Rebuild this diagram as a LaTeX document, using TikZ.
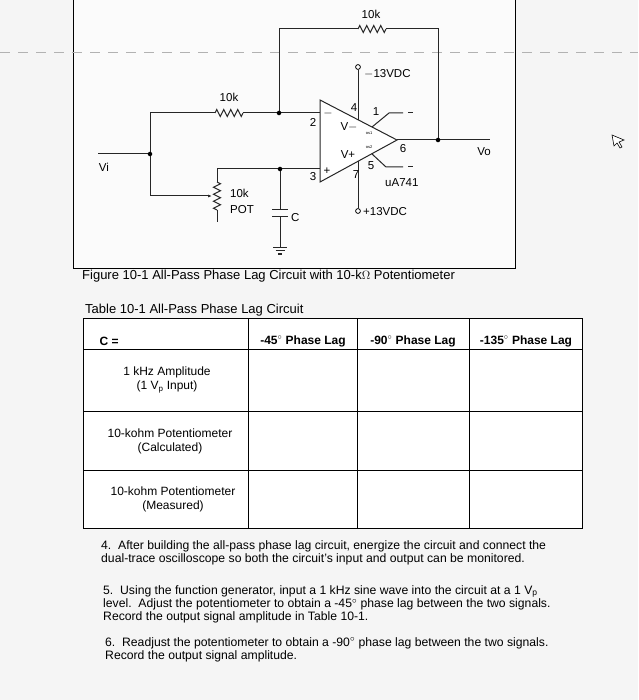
\documentclass[tikz,border=0pt]{standalone}
\usepackage{fontspec}
\setmainfont{Liberation Sans}
\usetikzlibrary{decorations.pathmorphing,arrows.meta}
\begin{document}
\begin{tikzpicture}[x=1pt,y=-1pt,
  wire/.style={line width=1pt,black!85},
  res/.style={wire,decorate,decoration={zigzag,segment length=7pt,amplitude=3.5pt}},
  dot/.style={circle,fill=black,inner sep=1.6pt},
  term/.style={circle,draw,line width=0.8pt,inner sep=1.7pt,fill=white},
  lbl/.style={font=\fontsize{11.5}{12}\selectfont,inner sep=1pt},
  tiny/.style={font=\fontsize{4}{4}\selectfont,inner sep=0pt},
  cell/.style={font=\fontsize{12}{14}\selectfont,align=center},
  head/.style={font=\bfseries\fontsize{12}{13}\selectfont},
  para/.style={font=\fontsize{12.2}{13.4}\selectfont,align=left,anchor=north west,inner sep=0pt}]
\fill[black!4] (0,0) rectangle (638,700);
\useasboundingbox (0,0) rectangle (638,700);
\fill[white!97!gray] (74,0) rectangle (515,268);
\draw[line width=0.8pt] (73,0) -- (73,268) -- (515,268) -- (515,0);
\draw[black!30,dashed,dash pattern=on 10pt off 8pt] (0,52) -- (638,52);
% coordinates
\coordinate (vi) at (98,154);
\coordinate (j1) at (150,154);
\coordinate (jt) at (150,113);
\coordinate (jb) at (150,196);
\coordinate (r1a) at (215,113);
\coordinate (r1b) at (243,113);
\coordinate (jinv) at (279,113);
\coordinate (inv) at (320,113);
\coordinate (ftop) at (279,29);
\coordinate (rfa) at (358,29);
\coordinate (rfb) at (386,29);
\coordinate (ftr) at (438,29);
\coordinate (out) at (397,140);
\coordinate (jout) at (438,140);
\coordinate (vo) at (490,140);
\coordinate (pt) at (217,169);
\coordinate (pa) at (217,182);
\coordinate (pb) at (217,210);
\coordinate (pe) at (217,222);
\coordinate (wip) at (212,196);
\coordinate (jnon) at (280,169);
\coordinate (non) at (320,169);
\coordinate (c1) at (280,210);
\coordinate (c2) at (280,217);
\coordinate (gnd) at (280,248);
% wires
\draw[wire] (vi) -- (j1) (jt) -- (jb);
\draw[wire] (jt) -- (r1a); \draw[res] (r1a) -- (r1b); \draw[wire] (r1b) -- (inv);
\draw[wire] (jinv) -- (ftop) -- (rfa); \draw[res] (rfa) -- (rfb); \draw[wire] (rfb) -- (ftr) -- (jout);
\draw[wire] (out) -- (vo);
\draw[wire,-{Latex[length=4pt,width=3pt]}] (jb) -- (wip);
\draw[wire] (non) -- (pt) -- (pa); \draw[res] (pa) -- (pb); \draw[wire] (pb) -- (pe);
\draw[wire] (jnon) -- (c1) (c2) -- (gnd);
\draw[wire] (272,210) -- (288,210) (272,217) -- (288,217);
\draw[wire] (273,248) -- (287,248) (275.5,251) -- (284.5,251) (278,254) -- (282,254);
% op-amp
\draw[wire,fill=white] (320,100) -- (397,140) -- (320,182) -- cycle;
\node[term] (m13) at (358,67) {};
\node[term] (p13) at (358,211) {};
\draw[wire] (m13) -- (358,120);
\draw[wire] (p13) -- (358,161);
\draw[wire] (372,127) -- (389,113) -- (403,113);
\draw[wire] (372,154) -- (386,167) -- (403,167);
\draw[wire] (408,113) -- (413,113) (408,167) -- (413,167);
\node[dot] at (jinv) {}; \node[dot] at (j1) {}; \node[dot] at (jnon) {}; \node[dot] at (jout) {};
% labels
\node[lbl] (l1) at (371,14) {10k};
\node[lbl] (l2) at (229,97) {10k};
\node[lbl,anchor=west] (l3) at (363,74) {$-$13VDC};
\node[lbl,anchor=west] (l4) at (362,212) {+13VDC};
\node[lbl] (l5) at (104,167) {Vi};
\node[lbl] (l6) at (484,152) {Vo};
\node[lbl,anchor=west] (l7) at (229,193) {10k};
\node[lbl,anchor=west] (l8) at (229,210) {POT};
\node[lbl,anchor=west] (l9) at (290,218) {C};
\node[lbl,anchor=west] (l10) at (384,183) {uA741};
\node[lbl] at (313,122) {2};
\node[lbl] at (313,177) {3};
\node[lbl] at (328,114) {$-$};
\node[lbl] at (327,171) {+};
\node[lbl] at (354,108) {4};
\node[lbl] at (376,112) {1};
\node[lbl] at (349,127) {V$-$};
\node[lbl] at (348,155) {V+};
\node[lbl] at (403,149) {6};
\node[lbl] at (371,166) {5};
\node[lbl] at (356,175) {7};
\node[tiny] at (369,133) {os1};
\node[tiny] at (369,147) {os2};
% caption
\node[anchor=west,font=\fontsize{13}{14}\selectfont,inner sep=0pt] at (82,276) {Figure 10-1 All-Pass Phase Lag Circuit with 10-k$\Omega$ Potentiometer};
\node[anchor=west,font=\fontsize{13}{14}\selectfont,inner sep=0pt] at (85,310) {Table 10-1 All-Pass Phase Lag Circuit};
% table
\fill[white] (83,318) rectangle (582,528);
\draw[line width=0.8pt] (83,318) rectangle (582,528);
\foreach \y in {349,411,470} \draw[line width=0.8pt] (83,\y) -- (582,\y);
\foreach \x in {248,357,469} \draw[line width=0.8pt] (\x,318) -- (\x,528);
\node[head,anchor=west] at (96,341) {C =};
\node[head] at (303,341) {-45$^{\circ}$ Phase Lag};
\node[head] at (413,341) {-90$^{\circ}$ Phase Lag};
\node[head] at (526,341) {-135$^{\circ}$ Phase Lag};
\node[cell] at (167,380) {1 kHz Amplitude\\(1 V$_{\mathrm p}$ Input)};
\node[cell] at (170,441) {10-kohm Potentiometer\\(Calculated)};
\node[cell] at (173,499) {10-kohm Potentiometer\\(Measured)};
% paragraphs
\node[para] at (101,540) {4.\ \ After building the all-pass phase lag circuit, energize the circuit and connect the\\dual-trace oscilloscope so both the circuit's input and output can be monitored.};
\node[para] at (103,585) {5.\ \ Using the function generator, input a 1 kHz sine wave into the circuit at a 1 V$_{\mathrm p}$\\level.\ \ Adjust the potentiometer to obtain a -45$^{\circ}$ phase lag between the two signals.\\Record the output signal amplitude in Table 10-1.};
\node[para] at (105,637) {6.\ \ Readjust the potentiometer to obtain a -90$^{\circ}$ phase lag between the two signals.\\Record the output signal amplitude.};
% cursor
\draw[line width=0.6pt,fill=white] (612,135) -- (624,140) -- (619,142) -- (622,147) -- (620,148) -- (617,143) -- (614,146) -- cycle;
\end{tikzpicture}
\end{document}
